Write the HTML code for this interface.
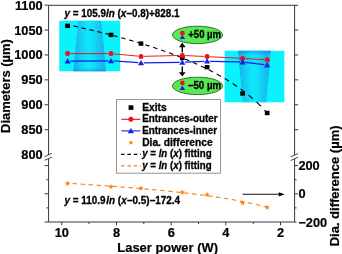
<!DOCTYPE html><html><head><meta charset="utf-8"><style>html,body{margin:0;padding:0;background:#fff}svg{display:block}text{stroke:#000;stroke-width:.2px}text.s{stroke-width:.3px}</style></head><body><svg width="342" height="254" viewBox="0 0 342 254" font-family="Liberation Sans, Arial, sans-serif" font-weight="bold" fill="#000">
<defs><linearGradient id="tube" x1="0" x2="1" y1="0" y2="0"><stop offset="0" stop-color="#1aa6e4"/><stop offset="0.06" stop-color="#18b6ea"/><stop offset="0.2" stop-color="#14ccf2"/><stop offset="0.45" stop-color="#0ee8fc"/><stop offset="0.6" stop-color="#10def8"/><stop offset="0.8" stop-color="#16c4f0"/><stop offset="0.93" stop-color="#18b6ec"/><stop offset="1" stop-color="#14d8f8"/></linearGradient><linearGradient id="shT" x1="0" x2="0" y1="0" y2="1"><stop offset="0" stop-color="#0a60d0" stop-opacity="0.4"/><stop offset="0.09" stop-color="#0a60d0" stop-opacity="0"/><stop offset="1" stop-color="#0a60d0" stop-opacity="0"/></linearGradient><linearGradient id="shB" x1="0" x2="0" y1="1" y2="0"><stop offset="0" stop-color="#0a60d0" stop-opacity="0.4"/><stop offset="0.07" stop-color="#0a60d0" stop-opacity="0"/><stop offset="1" stop-color="#0a60d0" stop-opacity="0"/></linearGradient></defs>
<rect width="342" height="254" fill="#fff"/>
<rect x="59.2" y="20.7" width="61" height="50.6" fill="#0af3fc"/>
<polygon points="78.1,20.7 101.3,20.7 106.3,71.3 73.4,71.3" fill="url(#tube)"/><polygon points="78.1,20.7 101.3,20.7 106.3,71.3 73.4,71.3" fill="url(#shB)"/>
<rect x="224.6" y="50.8" width="59.8" height="51.5" fill="#0af3fc"/>
<polygon points="238,50.8 271,50.8 266.1,102.3 242.7,102.3" fill="url(#tube)"/><polygon points="238,50.8 271,50.8 266.1,102.3 242.7,102.3" fill="url(#shT)"/>
<g stroke="#383838" stroke-width="1" fill="none">
<path d="M48.6,155 V5.3 H298.1 M294.6,5.3 V155"/>
<path d="M48.6,158.6 V222.0 H294.6 V158.6"/>
<path d="M44.6,156.6 L52,153.3 M44.6,160.3 L52,157" stroke-width="0.9"/>
<path d="M290.6,156.8 L298.2,153.5 M290.6,160.5 L298.2,157.2" stroke-width="0.9"/>
<path d="M44.6,5.10 H48.6"/>
<path d="M44.6,30.02 H48.6"/>
<path d="M44.6,54.94 H48.6"/>
<path d="M44.6,79.86 H48.6"/>
<path d="M44.6,104.78 H48.6"/>
<path d="M44.6,129.70 H48.6"/>
<path d="M294.6,30.02 H298.20000000000005"/>
<path d="M294.6,54.94 H298.20000000000005"/>
<path d="M294.6,79.86 H298.20000000000005"/>
<path d="M294.6,104.78 H298.20000000000005"/>
<path d="M294.6,129.70 H298.20000000000005"/>
<path d="M44.6,165.6 H48.6"/>
<path d="M44.6,193.8 H48.6"/>
<path d="M44.6,222.0 H48.6"/>
<path d="M46.4,179.7 H48.6"/>
<path d="M46.4,207.9 H48.6"/>
<path d="M294.6,165.6 H298.0"/>
<path d="M294.6,193.8 H298.0"/>
<path d="M294.6,222 H296.6"/>
<path d="M294.6,179.7 H296.6"/>
<path d="M294.6,207.9 H296.6"/>
<path d="M61.8,222.0 v3.4"/>
<path d="M116.5,222.0 v3.4"/>
<path d="M171.2,222.0 v3.4"/>
<path d="M225.8,222.0 v3.4"/>
<path d="M280.5,222.0 v3.4"/>
<path d="M89.1,222.0 v2"/>
<path d="M143.8,222.0 v2"/>
<path d="M198.5,222.0 v2"/>
<path d="M253.2,222.0 v2"/>
</g>
<text x="42.7" y="9.60" font-size="12.8" text-anchor="end">1100</text>
<text x="42.7" y="34.52" font-size="12.8" text-anchor="end">1050</text>
<text x="42.7" y="59.44" font-size="12.8" text-anchor="end">1000</text>
<text x="42.7" y="84.36" font-size="12.8" text-anchor="end">950</text>
<text x="42.7" y="109.28" font-size="12.8" text-anchor="end">900</text>
<text x="42.7" y="134.20" font-size="12.8" text-anchor="end">850</text>
<text x="42.7" y="159.12" font-size="12.8" text-anchor="end">800</text>
<text x="298.4" y="170.10" font-size="12.8">200</text>
<text x="298.4" y="198.30" font-size="12.8">0</text>
<text x="298.4" y="226.50" font-size="12.8">−200</text>
<text x="61.8" y="236.7" font-size="12.8" text-anchor="middle">10</text>
<text x="116.5" y="236.7" font-size="12.8" text-anchor="middle">8</text>
<text x="171.2" y="236.7" font-size="12.8" text-anchor="middle">6</text>
<text x="225.8" y="236.7" font-size="12.8" text-anchor="middle">4</text>
<text x="280.5" y="236.7" font-size="12.8" text-anchor="middle">2</text>
<text x="167.65" y="251.5" font-size="12.95" text-anchor="middle">Laser power (W)</text>
<text transform="translate(9.7,86.1) rotate(-90)" font-size="12.95" text-anchor="middle">Diameters (µm)</text>
<text transform="translate(339,185.9) rotate(-90)" font-size="13" text-anchor="middle">Dia. difference (µm)</text>
<path d="M67.60,24.72 L67.97,24.80 L68.35,24.88 L68.72,24.96 L69.09,25.04 L69.47,25.12 L69.84,25.20 M73.50,26.00 L74.22,26.16 L74.93,26.31 L75.65,26.47 L76.37,26.63 L77.08,26.79 L77.80,26.95 M81.46,27.78 L82.18,27.94 L82.89,28.11 L83.61,28.27 L84.33,28.44 L85.04,28.60 L85.76,28.77 M89.42,29.62 L90.14,29.79 L90.85,29.96 L91.57,30.13 L92.29,30.30 L93.00,30.48 L93.72,30.65 M97.38,31.53 L98.10,31.71 L98.81,31.89 L99.53,32.06 L100.25,32.24 L100.96,32.42 L101.68,32.60 M105.34,33.52 L106.06,33.70 L106.77,33.88 L107.49,34.06 L108.21,34.25 L108.92,34.43 L109.64,34.62 M113.30,35.58 L114.02,35.77 L114.73,35.96 L115.45,36.15 L116.17,36.34 L116.88,36.53 L117.60,36.72 M121.26,37.72 L121.98,37.92 L122.69,38.11 L123.41,38.31 L124.13,38.51 L124.84,38.71 L125.56,38.91 M129.22,39.95 L129.94,40.16 L130.65,40.37 L131.37,40.57 L132.09,40.78 L132.80,40.99 L133.52,41.20 M137.18,42.29 L137.90,42.50 L138.61,42.72 L139.33,42.93 L140.05,43.15 L140.76,43.37 L141.48,43.59 M145.14,44.73 L145.86,44.95 L146.57,45.18 L147.29,45.41 L148.01,45.63 L148.72,45.86 L149.44,46.09 M153.10,47.29 L153.82,47.52 L154.53,47.76 L155.25,48.00 L155.97,48.24 L156.68,48.48 L157.40,48.72 M161.06,49.98 L161.78,50.22 L162.49,50.47 L163.21,50.73 L163.93,50.98 L164.64,51.23 L165.36,51.49 M169.02,52.81 L169.74,53.07 L170.45,53.34 L171.17,53.60 L171.89,53.87 L172.60,54.14 L173.32,54.41 M176.98,55.80 L177.70,56.08 L178.41,56.36 L179.13,56.64 L179.85,56.93 L180.56,57.21 L181.28,57.50 M184.94,58.98 L185.66,59.27 L186.37,59.57 L187.09,59.87 L187.81,60.17 L188.52,60.47 L189.24,60.78 M192.90,62.36 L193.62,62.67 L194.33,62.99 L195.05,63.31 L195.77,63.63 L196.48,63.95 L197.20,64.28 M200.86,65.97 L201.58,66.30 L202.29,66.64 L203.01,66.99 L203.73,67.33 L204.44,67.68 L205.16,68.02 M208.82,69.84 L209.54,70.20 L210.25,70.57 L210.97,70.94 L211.69,71.31 L212.40,71.68 L213.12,72.06 M216.78,74.02 L217.50,74.42 L218.21,74.81 L218.93,75.21 L219.65,75.61 L220.36,76.02 L221.08,76.43 M224.74,78.56 L225.46,78.99 L226.17,79.42 L226.89,79.86 L227.61,80.30 L228.32,80.74 L229.04,81.19 M232.70,83.53 L233.42,84.00 L234.13,84.48 L234.85,84.96 L235.57,85.44 L236.28,85.93 L237.00,86.43 M240.66,89.02 L241.38,89.54 L242.09,90.07 L242.81,90.60 L243.53,91.14 L244.24,91.69 L244.96,92.24 M248.62,95.14 L249.34,95.73 L250.05,96.32 L250.77,96.93 L251.49,97.53 L252.20,98.15 L252.92,98.77 M256.58,102.07 L257.30,102.74 L258.01,103.42 L258.73,104.11 L259.45,104.81 L260.16,105.51 L260.88,106.23 M264.54,110.05 L264.98,110.53 L265.43,111.02 L265.87,111.51 L266.31,112.00 L266.76,112.50 L267.20,113.01 " fill="none" stroke="#000" stroke-width="1.1"/>
<path d="M67.60,183.26 L67.86,183.27 L68.13,183.29 L68.40,183.31 L68.66,183.32 L68.93,183.34 L69.19,183.36 M72.65,183.57 L73.40,183.62 L74.15,183.67 L74.90,183.71 L75.65,183.76 L76.40,183.81 L77.15,183.86 M80.61,184.08 L81.36,184.13 L82.11,184.18 L82.86,184.23 L83.61,184.28 L84.36,184.33 L85.11,184.38 M88.57,184.61 L89.32,184.66 L90.07,184.71 L90.82,184.76 L91.57,184.81 L92.32,184.86 L93.07,184.91 M96.53,185.15 L97.28,185.20 L98.03,185.25 L98.78,185.31 L99.53,185.36 L100.28,185.41 L101.03,185.47 M104.49,185.71 L105.24,185.77 L105.99,185.82 L106.74,185.88 L107.49,185.93 L108.24,185.99 L108.99,186.04 M112.45,186.30 L113.20,186.35 L113.95,186.41 L114.70,186.47 L115.45,186.52 L116.20,186.58 L116.95,186.64 M120.41,186.90 L121.16,186.96 L121.91,187.02 L122.66,187.08 L123.41,187.14 L124.16,187.20 L124.91,187.26 M128.37,187.54 L129.12,187.60 L129.87,187.66 L130.62,187.72 L131.37,187.78 L132.12,187.84 L132.87,187.90 M136.33,188.19 L137.08,188.26 L137.83,188.32 L138.58,188.38 L139.33,188.45 L140.08,188.51 L140.83,188.58 M144.29,188.88 L145.04,188.95 L145.79,189.01 L146.54,189.08 L147.29,189.15 L148.04,189.22 L148.79,189.28 M152.25,189.60 L153.00,189.67 L153.75,189.74 L154.50,189.81 L155.25,189.88 L156.00,189.95 L156.75,190.02 M160.21,190.35 L160.96,190.43 L161.71,190.50 L162.46,190.57 L163.21,190.65 L163.96,190.72 L164.71,190.79 M168.17,191.14 L168.92,191.22 L169.67,191.30 L170.42,191.37 L171.17,191.45 L171.92,191.53 L172.67,191.61 M176.13,191.98 L176.88,192.06 L177.63,192.14 L178.38,192.22 L179.13,192.30 L179.88,192.39 L180.63,192.47 M184.09,192.86 L184.84,192.94 L185.59,193.03 L186.34,193.12 L187.09,193.20 L187.84,193.29 L188.59,193.38 M192.05,193.79 L192.80,193.88 L193.55,193.97 L194.30,194.06 L195.05,194.16 L195.80,194.25 L196.55,194.34 M200.01,194.78 L200.76,194.88 L201.51,194.98 L202.26,195.07 L203.01,195.17 L203.76,195.27 L204.51,195.37 M207.97,195.84 L208.72,195.95 L209.47,196.05 L210.22,196.15 L210.97,196.26 L211.72,196.37 L212.47,196.47 M215.93,196.98 L216.68,197.09 L217.43,197.20 L218.18,197.31 L218.93,197.43 L219.68,197.54 L220.43,197.66 M223.89,198.20 L224.64,198.32 L225.39,198.45 L226.14,198.57 L226.89,198.69 L227.64,198.82 L228.39,198.94 M231.85,199.53 L232.60,199.66 L233.35,199.80 L234.10,199.93 L234.85,200.07 L235.60,200.20 L236.35,200.34 M239.81,200.99 L240.56,201.13 L241.31,201.28 L242.06,201.42 L242.81,201.57 L243.56,201.72 L244.31,201.87 M247.77,202.59 L248.52,202.75 L249.27,202.91 L250.02,203.07 L250.77,203.24 L251.52,203.41 L252.27,203.57 M255.73,204.37 L256.48,204.55 L257.23,204.74 L257.98,204.92 L258.73,205.10 L259.48,205.29 L260.23,205.48 M263.69,206.39 L264.27,206.55 L264.86,206.71 L265.44,206.87 L266.03,207.04 L266.62,207.20 L267.20,207.37 " fill="none" stroke="#ff7f0e" stroke-width="1.1"/>
<path d="M70.60,53.60 L108.00,53.60 M113.99,53.88 L138.01,56.12 M144.00,56.33 L179.30,55.47 M185.30,55.54 L204.10,56.46 M210.10,56.75 L239.60,58.25 M245.60,58.57 L264.20,59.63 " fill="none" stroke="#f01018" stroke-width="0.95"/>
<path d="M70.30,61.18 L108.30,60.82 M113.69,60.98 L138.31,62.62 M143.70,62.77 L179.60,62.33 M185.00,62.18 L204.40,61.32 M209.80,61.26 L239.90,61.94 M245.28,62.33 L264.52,64.67 " fill="none" stroke="#1020f0" stroke-width="1.25"/>
<rect x="65.25" y="23.650000000000002" width="4.7" height="4.4" fill="#000"/>
<rect x="108.65" y="32.699999999999996" width="4.7" height="4.4" fill="#000"/>
<rect x="138.65" y="41.4" width="4.7" height="4.4" fill="#000"/>
<rect x="179.95000000000002" y="55.8" width="4.7" height="4.4" fill="#000"/>
<rect x="204.75" y="65.0" width="4.7" height="4.4" fill="#000"/>
<rect x="240.25" y="91.3" width="4.7" height="4.4" fill="#000"/>
<rect x="264.84999999999997" y="110.8" width="4.7" height="4.4" fill="#000"/>
<polygon points="67.60,180.60 68.32,182.51 70.36,182.60 68.76,183.88 69.30,185.85 67.60,184.72 65.90,185.85 66.44,183.88 64.84,182.60 66.88,182.51" fill="#ff7f0e"/>
<polygon points="111.00,183.90 111.72,185.81 113.76,185.90 112.16,187.18 112.70,189.15 111.00,188.02 109.30,189.15 109.84,187.18 108.24,185.90 110.28,185.81" fill="#ff7f0e"/>
<polygon points="141.00,185.40 141.72,187.31 143.76,187.40 142.16,188.68 142.70,190.65 141.00,189.52 139.30,190.65 139.84,188.68 138.24,187.40 140.28,187.31" fill="#ff7f0e"/>
<polygon points="182.30,189.40 183.02,191.31 185.06,191.40 183.46,192.68 184.00,194.65 182.30,193.52 180.60,194.65 181.14,192.68 179.54,191.40 181.58,191.31" fill="#ff7f0e"/>
<polygon points="207.10,191.80 207.82,193.71 209.86,193.80 208.26,195.08 208.80,197.05 207.10,195.92 205.40,197.05 205.94,195.08 204.34,193.80 206.38,193.71" fill="#ff7f0e"/>
<polygon points="242.60,200.10 243.32,202.01 245.36,202.10 243.76,203.38 244.30,205.35 242.60,204.22 240.90,205.35 241.44,203.38 239.84,202.10 241.88,202.01" fill="#ff7f0e"/>
<polygon points="267.20,204.50 267.92,206.41 269.96,206.50 268.36,207.78 268.90,209.75 267.20,208.62 265.50,209.75 266.04,207.78 264.44,206.50 266.48,206.41" fill="#ff7f0e"/>
<circle cx="67.6" cy="53.6" r="2.5" fill="#f01018"/>
<circle cx="111.0" cy="53.6" r="2.5" fill="#f01018"/>
<circle cx="141.0" cy="56.4" r="2.5" fill="#f01018"/>
<circle cx="182.3" cy="55.4" r="2.5" fill="#f01018"/>
<circle cx="207.1" cy="56.6" r="2.5" fill="#f01018"/>
<circle cx="242.6" cy="58.4" r="2.5" fill="#f01018"/>
<circle cx="267.2" cy="59.8" r="2.5" fill="#f01018"/>
<polygon points="67.6,58.300000000000004 70.69999999999999,63.6 64.5,63.6" fill="#1020f0"/>
<polygon points="111.0,57.9 114.1,63.199999999999996 107.9,63.199999999999996" fill="#1020f0"/>
<polygon points="141.0,59.9 144.1,65.2 137.9,65.2" fill="#1020f0"/>
<polygon points="182.3,59.4 185.4,64.7 179.20000000000002,64.7" fill="#1020f0"/>
<polygon points="207.1,58.300000000000004 210.2,63.6 204.0,63.6" fill="#1020f0"/>
<polygon points="242.6,59.1 245.7,64.4 239.5,64.4" fill="#1020f0"/>
<polygon points="267.2,62.1 270.3,67.4 264.09999999999997,67.4" fill="#1020f0"/>
<path d="M182.3,46 V52.6 M182.3,66.6 V73" stroke="#000" stroke-width="1.4"/>
<polygon points="182.3,42.6 185.6,47.3 179,47.3"/><polygon points="182.3,76.6 185.6,72.2 179,72.2"/>
<ellipse cx="197.5" cy="34.9" rx="25" ry="8.7" fill="#58ea55" stroke="#1c4a1c" stroke-width="0.8"/>
<circle cx="182.4" cy="33.2" r="2.4" fill="#f01018"/>
<polygon points="182.4,34.9 185.2,39.0 179.6,39.0" fill="#1020f0"/>
<text x="188.3" y="38.1" font-size="10.3" class="s" textLength="32.8" lengthAdjust="spacingAndGlyphs">+50 µm</text>
<ellipse cx="197.5" cy="85.9" rx="25" ry="8.7" fill="#58ea55" stroke="#1c4a1c" stroke-width="0.8"/>
<circle cx="182.4" cy="82.9" r="2.4" fill="#f01018"/>
<polygon points="182.4,85.4 185.2,90.1 179.6,90.1" fill="#1020f0"/>
<text x="187.8" y="88.7" font-size="10.3" class="s" textLength="33.4" lengthAdjust="spacingAndGlyphs">−50 µm</text>
<path d="M242.6,194.3 H280" stroke="#111" stroke-width="1.1"/><polygon points="284.6,194.3 278.8,192.2 278.8,196.4" fill="#000"/>
<text x="64.6" y="17.1" font-size="10.3" class="s" textLength="114.8" lengthAdjust="spacingAndGlyphs"><tspan font-style="italic">y</tspan> = 105.9<tspan font-style="italic">ln</tspan> (<tspan font-style="italic">x</tspan>−0.8)+828.1</text>
<text x="64.6" y="203.5" font-size="10.3" class="s" textLength="115.4" lengthAdjust="spacingAndGlyphs"><tspan font-style="italic">y</tspan> = 110.9<tspan font-style="italic" dx="0.8">ln</tspan> (<tspan font-style="italic">x</tspan>−0.5)−172.4</text>
<rect x="116.5" y="99.6" width="104.1" height="73.6" fill="#fff" stroke="#8a8a8a" stroke-width="0.9"/>
<rect x="128.6" y="105.3" width="4.8" height="4.6" fill="#000"/>
<path d="M121.4,119.3 H140.4" stroke="#f01018" stroke-width="1.1"/><circle cx="130.9" cy="119.3" r="2.5" fill="#f01018"/>
<path d="M121.4,130.9 H140.4" stroke="#1020f0" stroke-width="1.1"/><polygon points="130.9,128.0 134.0,133.3 127.80000000000001,133.3" fill="#1020f0"/>
<polygon points="130.90,140.00 131.54,141.72 133.37,141.80 131.94,142.94 132.43,144.70 130.90,143.69 129.37,144.70 129.86,142.94 128.43,141.80 130.26,141.72" fill="#ff7f0e"/>
<path d="M121,154.3 H141" stroke="#000" stroke-width="1.3" stroke-dasharray="3.5,2.9"/>
<path d="M121,165.9 H141" stroke="#ff7f0e" stroke-width="1.3" stroke-dasharray="3.5,2.9"/>
<text x="142.2" y="110.5" font-size="10.4" class="s" textLength="24.5" lengthAdjust="spacingAndGlyphs">Exits</text>
<text x="142.2" y="122.2" font-size="10.4" class="s" textLength="75.3" lengthAdjust="spacingAndGlyphs">Entrances-outer</text>
<text x="142.2" y="133.9" font-size="10.4" class="s" textLength="74.8" lengthAdjust="spacingAndGlyphs">Entrances-inner</text>
<text x="142.2" y="145.6" font-size="10.4" class="s" textLength="70.4" lengthAdjust="spacingAndGlyphs">Dia. difference</text>
<text x="142.2" y="157.2" font-size="10.4" class="s" textLength="69.4" lengthAdjust="spacingAndGlyphs"><tspan font-style="italic">y</tspan> = <tspan font-style="italic">ln</tspan> (<tspan font-style="italic">x</tspan>) fitting</text>
<text x="142.2" y="168.9" font-size="10.4" class="s" textLength="69.4" lengthAdjust="spacingAndGlyphs"><tspan font-style="italic">y</tspan> = <tspan font-style="italic">ln</tspan> (<tspan font-style="italic">x</tspan>) fitting</text>
</svg></body></html>
